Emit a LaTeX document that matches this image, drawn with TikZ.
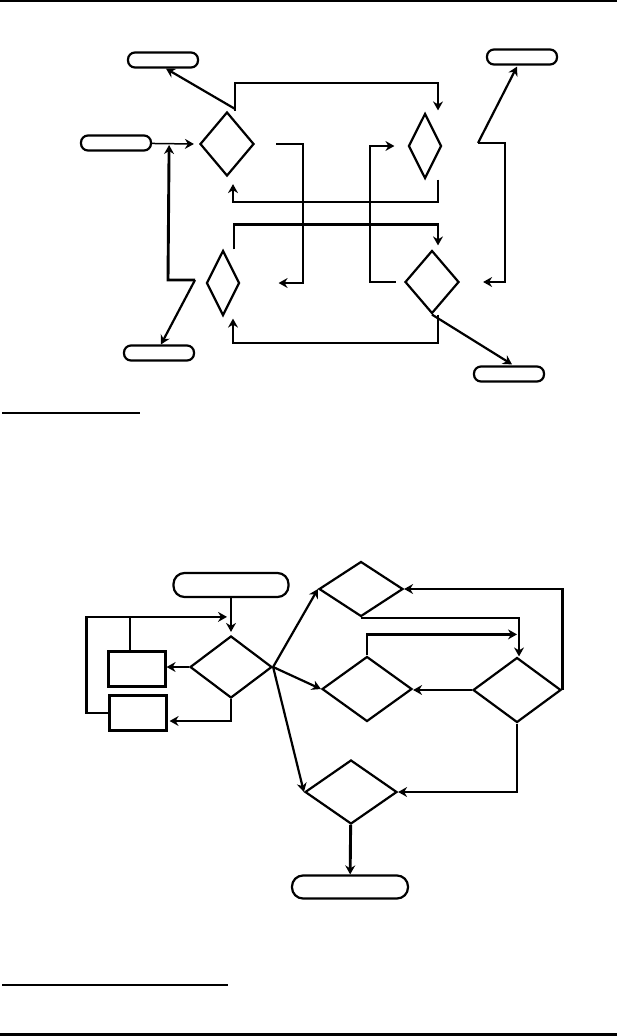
\documentclass[tikz,border=0pt]{standalone}
\usetikzlibrary{shapes.geometric,arrows.meta}
\begin{document}
\begin{tikzpicture}[x=1pt,y=-1pt,line width=2.2pt,
  dia/.style={diamond, draw, inner sep=0pt},
  term/.style={rectangle, draw, rounded corners=7pt, minimum width=70pt, minimum height=15pt, inner sep=0pt},
  box/.style={rectangle, draw, minimum width=57pt, minimum height=35pt, inner sep=0pt},
  arr/.style={-{Stealth[length=9pt,width=10pt,inset=3pt]}},
  thk/.style={line width=2.9pt},
  thn/.style={line width=1.5pt}]
\useasboundingbox (0,0) rectangle (617,1036);
% page rules
\draw[line width=2pt] (0,1) -- (617,1);
\draw[line width=2pt] (2,413) -- (140,413);
\draw[line width=2pt] (2,985) -- (228,985);
\draw[line width=3pt] (0,1034.5) -- (617,1034.5);
% upper picture
\node[term] (t0) at (116,143){};
\node[term] (t1) at (163,60){};
\node[term] (t2) at (522,57){};
\node[term] (t3) at (159,353){};
\node[term] (t4) at (509,374){};
\node[dia, minimum width=54pt, minimum height=64pt] (d1) at (227,144){};
\node[dia, minimum width=33pt, minimum height=65pt] (d2) at (425,146){};
\node[dia, minimum width=33pt, minimum height=65pt] (d3) at (223,283){};
\node[dia, minimum width=54pt, minimum height=63pt] (d4) at (432,282){};
\coordinate (z1) at (478,143);
\coordinate (z2) at (195,280);
\draw[arr, thn](t0) -- ([xshift=-5pt]d1.west);
\draw[arr]([xshift=8pt]d1.north) -- ++(0,-28) -| ([xshift=13pt,yshift=2pt]d2.north);
\draw[arr]([xshift=8pt,yshift=2pt]d1.north) -- ([xshift=3pt]t1.south);
\draw[arr]([xshift=21pt]d1.east) -- ++(27,0) |- ([xshift=38pt]d3.east);
\draw[arr]([xshift=13pt]d2.south) -- ++(0,22) -| ([xshift=6pt,yshift=-7pt]d1.south);
\draw[arr]([xshift=-8pt]d4.west) -- ++(-26,0) |- ([xshift=-13pt]d2.west);
\draw[arr](z1) -- ([xshift=-5pt,yshift=-1pt]t2.south);
\draw[arr, thk](z1) -- ++(27,0) |- ([xshift=23pt]d4.east);
\draw[arr]([xshift=11pt]d3.north) -- ++(0,-25) -| ([xshift=6pt,yshift=4pt]d4.north);
\draw[arr, thk](z2) -- ++(-27,0) -- ([xshift=17pt,yshift=-2pt]t0.east);
\draw[arr](z2) -- ([xshift=2pt]t3.north);
\draw[arr]([xshift=6pt]d4.south) -- ++(0,28) -| ([xshift=10pt,yshift=-2pt]d3.south);
\draw[arr](d4.south) -- ([xshift=3pt,yshift=1pt]t4.north);
% lower picture
\node[term, minimum width=115pt, minimum height=24pt, rounded corners=11pt] (s) at (231,585){};
\node[term, minimum width=116pt, minimum height=23pt, rounded corners=11pt] (f) at (350,887){};
\node[dia, minimum width=82pt, minimum height=62pt] (e1) at (231,667){};
\node[box] (r1) at (137,669){};
\node[box] (r2) at (138,713){};
\node[dia, minimum width=84pt, minimum height=55pt] (e2) at (361,589){};
\node[dia, minimum width=90pt, minimum height=65pt] (e3) at (367,689){};
\node[dia, minimum width=92pt, minimum height=64pt] (e4) at (351,792){};
\node[dia, minimum width=88pt, minimum height=65pt] (e5) at (517,690){};
\draw[arr, thk](s) -- ([yshift=3pt]e1.north);
\draw[arr, thk](e1.west) -- (e1.west -| r1.east);
\draw[arr, thk](e1.south) |- ([xshift=2pt,yshift=-8pt]r2.east);
\draw[arr](r2.west) -- ++(-22,0) |- ([xshift=-4pt,yshift=18pt]e1.north);
\draw([xshift=-7pt]r1.north) -- ++(0,-34);
\draw[arr](e1.east) -- (e2.west);
\draw[arr](e1.east) -- (e3.west);
\draw[arr](e1.east) -- (e4.west);
\draw[arr, thk](e5.east) |- (e2.east);
\draw[arr](e2.south) -| ([xshift=2pt]e5.north);
\draw[arr](e3.north) |- ([yshift=22pt]e5.north);
\draw[arr](e5.west) -- (e5.west -| e3.east);
\draw[arr](e5.south) |- (e4.east);
\draw[arr, thk](e4) -- (f);
\end{tikzpicture}
\end{document}
